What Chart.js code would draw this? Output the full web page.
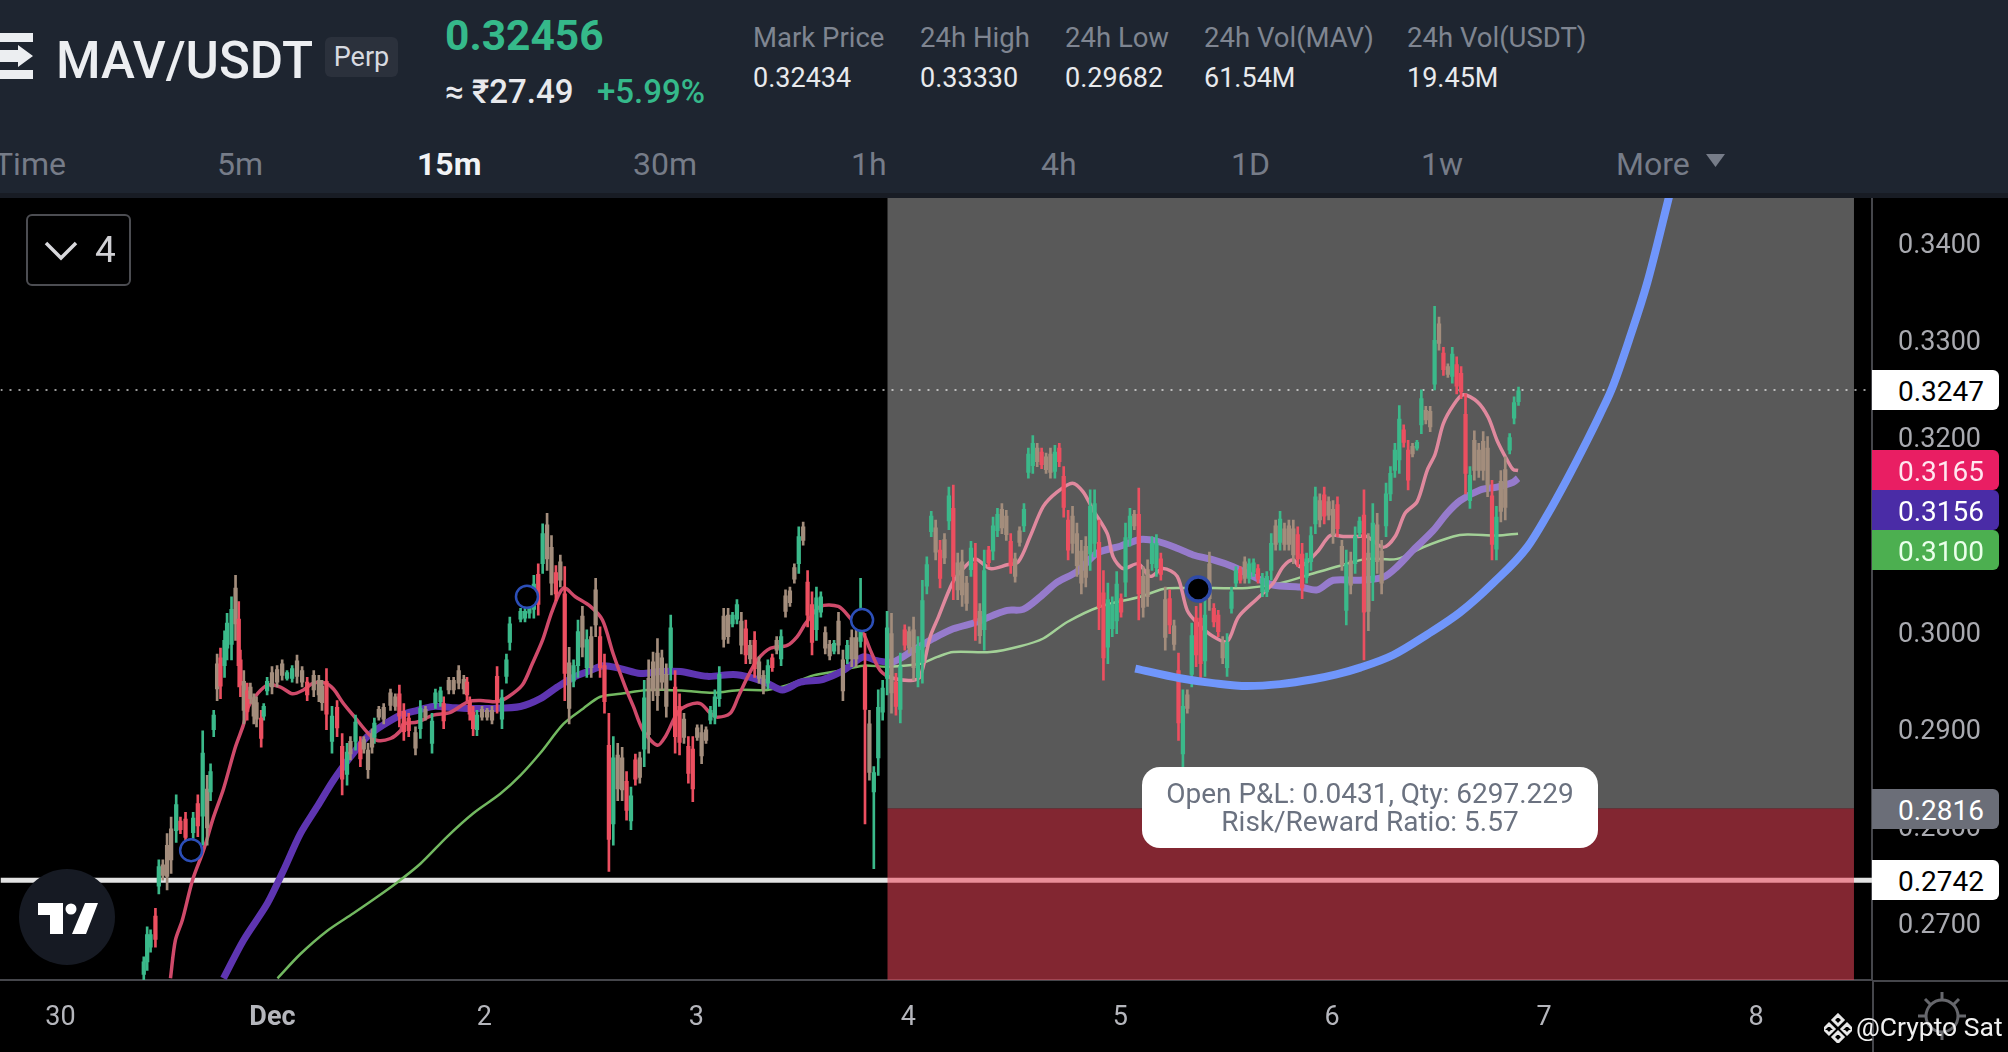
<!DOCTYPE html>
<html><head><meta charset="utf-8">
<script src="https://cdn.jsdelivr.net/npm/chart.js@4/dist/chart.umd.js"></script>
<style>
html,body{margin:0;padding:0;background:#000;width:2008px;height:1052px;overflow:hidden;font-family:Roboto,sans-serif}
#c{position:absolute;left:-15px;top:0}
.bar{position:absolute;left:0;top:0;width:2008px;height:193px;background:#1e2530}
.band{position:absolute;left:0;top:193px;width:2008px;height:5px;background:#181c24}
.t{position:absolute;white-space:nowrap;line-height:1}
.lab{color:#7f8591;font-size:27.5px}
.val{color:#e8eaed;font-size:27px}
.tab{color:#767c88;font-size:32px;top:148px}
.g{color:#35b98a}
.badge{position:absolute;left:1872px;width:127px;height:40px;border-radius:0 6px 6px 0;font-size:28px;line-height:43px;text-indent:26px}
.ln{position:absolute;background:#45464b}
</style></head><body>
<canvas id="c" width="2023" height="1052"></canvas>
<div class="bar"></div><div class="band"></div>
<svg style="position:absolute;left:0;top:0" width="40" height="90"><path fill="#eceef1" d="M0 33H33V42H0ZM0 70H33V79H0ZM0 50H18L18 45L33 56L18 67L18 62H0Z"/></svg>
<div class="t" style="left:56px;top:35px;font-size:51px;font-weight:500;color:#eceef1">MAV/USDT</div>
<div class="t" style="left:325px;top:37px;width:73px;height:40px;line-height:40px;background:#2b313c;border-radius:6px;text-align:center;font-size:27px;color:#d8dae0">Perp</div>
<div class="t g" style="left:445px;top:15px;font-size:42.5px;font-weight:700">0.32456</div>
<div class="t" style="left:445px;top:75px;font-size:33px;font-weight:500;color:#e8e9ec">≈ ₹27.49</div>
<div class="t g" style="left:597px;top:75px;font-size:33px;font-weight:500">+5.99%</div>
<div class="t lab" style="left:753px;top:24px">Mark Price</div><div class="t val" style="left:753px;top:65px">0.32434</div>
<div class="t lab" style="left:920px;top:24px">24h High</div><div class="t val" style="left:920px;top:65px">0.33330</div>
<div class="t lab" style="left:1065px;top:24px">24h Low</div><div class="t val" style="left:1065px;top:65px">0.29682</div>
<div class="t lab" style="left:1204px;top:24px">24h Vol(MAV)</div><div class="t val" style="left:1204px;top:65px">61.54M</div>
<div class="t lab" style="left:1407px;top:24px">24h Vol(USDT)</div><div class="t val" style="left:1407px;top:65px">19.45M</div>
<div class="t tab" style="left:-6px">Time</div>
<div class="t tab" style="left:217px">5m</div>
<div class="t tab" style="left:417px;color:#f2f3f5;font-weight:700">15m</div>
<div class="t tab" style="left:633px">30m</div>
<div class="t tab" style="left:851px">1h</div>
<div class="t tab" style="left:1041px">4h</div>
<div class="t tab" style="left:1231px">1D</div>
<div class="t tab" style="left:1421px">1w</div>
<div class="t tab" style="left:1616px">More</div>
<svg style="position:absolute;left:1706px;top:154px" width="20" height="14"><path fill="#767c88" d="M0 0H19L9.5 13Z"/></svg>
<div style="position:absolute;left:26px;top:214px;width:101px;height:68px;border:2px solid #4c4d52;border-radius:6px"></div>
<svg style="position:absolute;left:44px;top:240px" width="36" height="22"><path fill="none" stroke="#d8d8dc" stroke-width="3.5" d="M2 3L17 18L32 3"/></svg>
<div class="t" style="left:95px;top:231px;font-size:37px;color:#d0d0d4">4</div>
<div style="position:absolute;left:1142px;top:767px;width:456px;height:81px;background:#fff;border-radius:18px"></div>
<div class="t" style="left:1142px;width:456px;text-align:center;top:780px;font-size:28px;color:#6b7280">Open P&amp;L: 0.0431, Qty: 6297.229</div>
<div class="t" style="left:1142px;width:456px;text-align:center;top:808px;font-size:28px;color:#6b7280">Risk/Reward Ratio: 5.57</div>
<svg style="position:absolute;left:19px;top:869px" width="96" height="96"><circle cx="48" cy="48" r="48" fill="#161a23"/><path fill="#fff" d="M19 34H44V65H31V46H19ZM66 34H79L67 65H53Z"/><circle cx="52" cy="40" r="5.5" fill="#fff"/></svg>
<div class="ln" style="left:1872px;top:980px;width:136px;height:2px"></div>
<div class="ln" style="left:1872px;top:980px;width:2px;height:72px"></div>
<div id="badges"></div>
<svg style="position:absolute;left:1918px;top:992px" width="48" height="48"><circle cx="24" cy="24" r="16" fill="none" stroke="#66676c" stroke-width="3"/><path stroke="#66676c" stroke-width="3" d="M24 0V8M24 40V48M0 24H8M40 24H48M7 7L13 13M41 7L35 13"/></svg>
<svg style="position:absolute;left:1824px;top:1013px" width="28" height="30"><path fill="none" stroke="#e8e8e8" stroke-width="3" d="M14 2L19 7L14 12L9 7ZM5 11L10 16L5 21L0 16ZM23 11L28 16L23 21L18 16ZM14 19L19 24L14 29L9 24Z"/></svg>
<div class="t" style="left:1856px;top:1014px;font-size:26.5px;color:#f0f0f0">@Crypto Sat</div>
<script>
const xTickDays=[0,1,2,3,4,5,6,7,8];
const xTickLabels=["30","Dec","2","3","4","5","6","7","8"];
const yTicks=[0.27,0.28,0.29,0.30,0.31,0.32,0.33,0.34];
const firstCandleDay=0.40, candlesPerDay=48;
const earlyCandleDays=[
.393,.409,.425,.448,.464,.483,.503,.522,.546,.566,
.590,.626,.648,.671,.692,.708,.723,.739,.755,.774,
.786,.807,.826,.841,.849,.865,.881,.896,.912,.925,
.947,.959,.975,.998,1.022,1.046,1.069,1.093,1.116,1.140,
1.164,1.195,1.219,1.234,1.255,1.281,1.305,1.329,1.352,1.368,
1.392,1.415,1.431,1.451,1.470,1.481,1.502,1.525,1.557,1.580,
1.599,1.620,1.643,1.675,1.698,1.722,1.753,1.769,1.793,1.808,
1.832,1.855,1.879,1.903,1.918,1.931,1.947,1.965,1.989,2.013,
2.036,2.060,2.083,2.104,2.120];
const highs=[
2665,2696,2693,2715,2765,2765,2792,2809,2832,2809,
2814,2814,2832,2898,2852,2864,2919,2977,2983,3001,
3019,3036,3058,3031,2981,2960,2947,2947,2936,2933,
2919,2926,2953,2964,2965,2971,2960,2965,2976,2964,
2953,2960,2955,2950,2962,2923,2929,2895,2885,2892,
2914,2892,2892,2885,2900,2911,2923,2926,2941,2936,
2945,2926,2916,2902,2929,2923,2916,2941,2943,2933,
2953,2953,2965,2955,2953,2933,2923,2919,2923,2921,
2923,2964,2940,2977,3015,3024,3024,3039,3058,3070,
3111,3122,3099,3068,3079,3067,2984,2971,3012,3026,
3002,3005,3055,3005,2977,2916,2892,2885,2881,2856,
2840,2874,2876,2950,2971,2979,2993,2981,2967,3017,
2960,2936,2916,2892,2892,2904,2904,2902,2923,2940,
2964,3024,3024,3020,3033,3020,3012,2991,3000,2974,
2960,2971,2977,2995,3002,3043,3046,3070,3108,3113,
3063,3041,3046,3041,3005,2991,2991,3020,2981,2991,
3002,3002,3055,2998,2919,2861,2940,2950,3021,3019,
2957,2978,3007,3005,3015,2995,3053,3077,3124,3115,
3094,3101,3149,3151,3081,3084,3057,3093,3091,3029,
3084,3088,3118,3127,3132,3125,3101,3081,3108,3132,
3189,3202,3194,3189,3184,3189,3192,3194,3170,3125,
3129,3112,3094,3098,3146,3146,3115,3063,3050,3036,
3062,3039,3112,3127,3125,3148,3067,3074,3098,3100,
3081,3046,3043,3012,2978,2940,2940,3009,3026,3029,
3033,3082,3029,3022,2995,2998,3046,3067,3067,3077,
3075,3075,3069,3060,3062,3101,3115,3124,3112,3115,
3115,3108,3091,3081,3108,3149,3142,3149,3139,3135,
3139,3094,3084,3082,3108,3118,3146,3101,3132,3122,
3094,3153,3170,3194,3233,3213,3197,3194,3197,3249,
3232,3232,3335,3324,3293,3276,3293,3283,3273,3245,
3170,3207,3194,3206,3201,3156,3129,3166,3180,3204,
3242,3252];
const lows=[
2641,2651,2670,2675,2730,2744,2734,2751,2783,2792,
2780,2787,2789,2780,2780,2826,2892,2929,2931,2953,
2971,2971,2991,2943,2933,2905,2909,2926,2905,2902,
2881,2909,2935,2936,2943,2950,2950,2948,2947,2943,
2929,2933,2928,2919,2899,2875,2892,2832,2842,2868,
2878,2861,2875,2849,2875,2885,2909,2905,2919,2919,
2902,2888,2892,2873,2890,2909,2875,2921,2923,2900,
2936,2936,2941,2936,2929,2909,2893,2893,2909,2909,
2905,2916,2900,2947,2981,3010,3010,3014,3014,3017,
3060,3063,3038,3032,3046,2929,2905,2943,2953,2974,
2953,2953,2995,2953,2916,2753,2780,2826,2826,2806,
2796,2842,2844,2861,2875,2929,2919,2940,2912,2950,
2875,2873,2885,2844,2825,2888,2864,2885,2905,2905,
2923,2984,2988,3005,3008,2977,2967,2967,2953,2947,
2936,2941,2959,2977,2965,3015,3026,3050,3060,3089,
3005,2976,2991,3015,2977,2971,2977,2977,2929,2967,
2964,2964,2984,2802,2847,2756,2852,2909,2935,2916,
2914,2906,2981,2978,2950,2943,2947,3039,3098,3074,
3045,3070,3105,3033,3033,3026,3022,3057,2991,2988,
2981,3067,3074,3098,3101,3094,3060,3051,3088,3103,
3158,3163,3170,3168,3163,3158,3158,3170,3118,3074,
3081,3057,3039,3046,3063,3077,3002,2950,2967,2995,
2998,3015,3036,3088,3105,3012,3015,3026,3063,3057,
3053,2981,2998,2981,2888,2857,2916,2943,2964,2952,
2954,3022,3005,2995,2967,2954,3019,3046,3050,3050,
3050,3057,3050,3036,3036,3053,3084,3084,3084,3084,
3070,3067,3034,3050,3063,3101,3108,3111,3115,3091,
3098,3063,3007,3039,3060,3098,2971,3001,3032,3060,
3039,3098,3135,3159,3163,3190,3146,3180,3187,3204,
3214,3206,3249,3290,3264,3262,3256,3245,3240,3142,
3127,3156,3159,3156,3139,3074,3074,3113,3115,3183,
3214,3233];
const bodyLows=[
2647,2660,2675,2683,2738,2749,2748,2765,2795,2796,
2788,2793,2800,2810,2798,2835,2899,2941,2944,2965,
2983,2987,3008,2965,2945,2919,2918,2931,2913,2910,
2890,2913,2939,2943,2948,2955,2952,2952,2954,2948,
2935,2940,2935,2927,2915,2887,2901,2848,2853,2874,
2887,2869,2879,2858,2881,2891,2912,2910,2924,2923,
2913,2897,2898,2880,2900,2912,2885,2926,2928,2908,
2940,2940,2947,2941,2935,2915,2900,2899,2912,2912,
2909,2928,2910,2954,2989,3013,3014,3019,3023,3028,
3070,3075,3050,3039,3053,2957,2921,2949,2965,2984,
2963,2963,3007,2963,2928,2786,2802,2838,2837,2816,
2805,2848,2850,2879,2894,2939,2934,2948,2923,2963,
2892,2886,2891,2854,2838,2891,2872,2888,2909,2912,
2931,2992,2995,3008,3013,2986,2976,2972,2962,2952,
2941,2947,2963,2981,2972,3021,3030,3054,3070,3094,
3017,2989,3002,3020,2983,2975,2980,2986,2939,2972,
2972,2972,2990,2920,2855,2835,2870,2917,2952,2937,
2923,2920,2986,2983,2963,2953,2968,3047,3103,3082,
3055,3076,3114,3057,3043,3038,3029,3064,3011,2996,
3002,3071,3083,3104,3107,3100,3068,3057,3092,3109,
3164,3171,3175,3172,3167,3164,3165,3175,3128,3084,
3091,3068,3050,3056,3080,3091,3025,2973,2984,3003,
3011,3020,3051,3096,3109,3039,3025,3036,3070,3066,
3059,2994,3007,2987,2906,2874,2921,2956,2976,2967,
2970,3034,3010,3000,2973,2963,3024,3050,3053,3055,
3055,3061,3054,3041,3041,3063,3090,3092,3090,3090,
3079,3075,3045,3056,3072,3111,3115,3119,3120,3100,
3106,3069,3022,3048,3070,3102,3020,3021,3052,3072,
3050,3109,3142,3166,3177,3195,3156,3183,3189,3213,
3218,3211,3255,3297,3270,3265,3263,3253,3247,3163,
3135,3166,3166,3166,3151,3090,3085,3124,3128,3187,
3220,3237];
const bodyHighs=[
2660,2688,2688,2707,2758,2760,2780,2797,2822,2805,
2807,2808,2823,2875,2838,2856,2914,2967,2973,2991,
3009,3023,3045,3013,2971,2949,2939,2943,2930,2927,
2911,2923,2949,2958,2961,2967,2958,2962,2970,2960,
2948,2955,2950,2944,2949,2913,2922,2882,2876,2887,
2907,2886,2889,2878,2895,2906,2920,2922,2937,2933,
2936,2918,2911,2896,2921,2920,2908,2937,2939,2926,
2950,2950,2960,2951,2948,2928,2917,2914,2920,2919,
2919,2954,2932,2971,3008,3021,3021,3034,3049,3059,
3101,3110,3087,3061,3072,3039,2968,2965,3000,3016,
2992,2995,3043,2995,2965,2883,2870,2873,2870,2846,
2831,2868,2870,2932,2952,2969,2978,2973,2956,3004,
2943,2923,2910,2882,2879,2901,2896,2899,2919,2933,
2956,3016,3017,3017,3028,3011,3003,2986,2991,2969,
2955,2965,2973,2991,2995,3037,3042,3066,3098,3108,
3051,3028,3035,3036,2999,2987,2988,3011,2971,2986,
2994,2994,3005,2965,2905,2855,2922,2942,3004,2998,
2948,2964,3002,3000,3002,2985,3032,3069,3119,3107,
3084,3095,3140,3127,3071,3072,3050,3086,3071,3021,
3063,3084,3109,3121,3126,3119,3093,3075,3104,3126,
3183,3194,3189,3185,3180,3183,3185,3189,3160,3115,
3119,3101,3083,3088,3129,3132,3092,3040,3033,3028,
3049,3034,3097,3119,3121,3121,3057,3064,3091,3091,
3075,3033,3034,3006,2960,2923,2935,2996,3014,3014,
3017,3070,3024,3017,2989,2989,3041,3063,3064,3072,
3070,3071,3065,3055,3057,3091,3109,3116,3106,3109,
3106,3100,3080,3075,3099,3139,3135,3141,3134,3126,
3131,3088,3069,3073,3098,3114,3120,3081,3112,3110,
3083,3142,3163,3187,3219,3208,3187,3191,3195,3240,
3228,3227,3300,3317,3287,3273,3286,3275,3266,3224,
3161,3197,3187,3196,3189,3140,3118,3155,3167,3200,
3236,3248];
const candleKinds=("GGGRGTTTGR"+"RGRGTGGTRG"+"GGTRRTRTTT"+"RGGTTTGGTT"+"RTTTRGRRGT"+"GRTTTGTTTT"+"RRRTGTGGGR"+"TTTTRRRGTT"+
"TRGGGGGGGR"+"GTTRTRTGGT"+"GTTRRRGTTR"+"GRTGTTTTTG"+"RRTRRTTTGG"+"GTTGGTRTRT"+"TGRTGTTTGT"+"RRGGTTGTTG"+
"TTGRTGGGGT"+"RGRTTGGGGT"+"RTGRTTTGRT"+"GRGGTTRTTG"+"GGTRTTGRRR"+"TTTTGGRRGG"+"GRGGTRTTGG"+"RTRTRGTGRR"+
"GTRRTGGGRT"+"GGRGGGTGTT"+"TRRGGGTRTT"+"RTGTGGRTGT"+"TGGGGRRTGG"+"TTGTRTGRRR"+"GTTTTRGTTG"+"GG").split("");
const pinkDays=[.519,.542,.575,.623,.675,.722,.769,.825,.863,.887,
.929,.976,1.038,1.094,1.146,1.193,1.25,1.288,1.335,1.392,
1.453,1.495,1.557,1.604,1.618,1.684,1.759,1.84,1.925,1.995,
2.061,2.113,2.179,2.226,2.274,2.321,2.373,2.429,2.5,2.557,
2.608,2.665,2.703,2.75,2.816,2.854,2.91,2.958,3.019,3.066,
3.099,3.16,3.198,3.241,3.288,3.349,3.429,3.476,3.514,3.585,
3.67,3.726,3.788,3.821,3.868,3.929,4.024,4.057,4.104,4.142,
4.208,4.259,4.316,4.387,4.467,4.519,4.575,4.637,4.703,4.774,
4.825,4.873,4.939,4.967,5.014,5.085,5.142,5.203,5.269,5.316,
5.363,5.439,5.505,5.557,5.646,5.722,5.769,5.816,5.849,5.929,
5.991,6.052,6.118,6.165,6.241,6.297,6.344,6.401,6.448,6.486,
6.524,6.571,6.618,6.684,6.736,6.778,6.825,6.854,6.877];
const pinkValues=[2643,2682,2703,2744,2775,2809,2838,2881,2904,2923,
2936,2945,2943,2936,2940,2947,2947,2941,2926,2911,
2895,2888,2890,2898,2905,2907,2914,2917,2928,2929,
2928,2933,2945,2967,2991,3022,3045,3036,3026,3012,
2977,2943,2923,2898,2883,2892,2916,2924,2926,2916,
2912,2916,2933,2953,2971,2983,2986,2995,3008,3026,
3026,3014,2998,2981,2960,2952,2950,2954,2995,3015,
3050,3065,3075,3065,3069,3072,3098,3129,3144,3153,
3144,3125,3101,3077,3065,3070,3057,3065,3057,3022,
3009,2995,2990,3015,3034,3050,3067,3074,3067,3082,
3099,3098,3098,3098,3087,3098,3122,3134,3166,3183,
3214,3233,3244,3237,3221,3197,3177,3167,3166];
const purpleDays=[.769,.863,.976,1.052,1.132,1.212,1.288,1.368,1.448,1.524,
1.604,1.684,1.759,1.84,1.92,2.042,2.17,2.264,2.344,2.42,
2.5,2.561,2.642,2.736,2.83,2.925,3.052,3.175,3.255,3.335,
3.406,3.491,3.599,3.693,3.788,3.854,3.929,4.024,4.118,4.212,
4.325,4.401,4.467,4.542,4.623,4.703,4.797,4.892,5,5.094,
5.175,5.269,5.344,5.439,5.533,5.627,5.722,5.849,5.929,6.005,
6.132,6.241,6.307,6.382,6.476,6.542,6.604,6.698,6.778,6.854,6.877];
const purpleValues=[2643,2682,2720,2754,2792,2820,2847,2871,2892,2904,
2914,2919,2923,2922,2921,2921,2923,2931,2943,2953,
2960,2965,2962,2957,2959,2959,2954,2956,2953,2947,
2940,2948,2951,2960,2974,2970,2969,2981,2993,3003,
3010,3017,3022,3023,3036,3051,3062,3081,3088,3095,
3093,3086,3079,3074,3067,3057,3048,3046,3043,3053,
3053,3056,3067,3084,3104,3122,3135,3146,3149,3154,3158];
const greenDays=[1.024,1.132,1.259,1.382,1.495,1.59,1.698,1.825,1.948,2.075,
2.17,2.264,2.373,2.467,2.547,2.642,2.769,2.863,2.958,3.08,
3.208,3.335,3.429,3.552,3.679,3.788,3.901,4.057,4.137,4.212,
4.387,4.528,4.637,4.75,4.906,5.094,5.203,5.283,5.439,5.599,
5.755,5.91,6.038,6.165,6.307,6.429,6.571,6.637,6.778,6.877];
const greenValues=[2643,2668,2692,2710,2727,2742,2761,2789,2813,2833,
2852,2875,2905,2921,2933,2936,2940,2940,2939,2937,
2940,2940,2945,2955,2960,2965,2964,2967,2974,2979,
2979,2985,2993,3010,3026,3036,3044,3045,3045,3045,
3050,3060,3068,3075,3075,3087,3098,3100,3099,3101];
const curveDays=[5.071,5.283,5.439,5.599,5.755,5.91,6.02,6.132,6.288,6.448,6.604,6.759,6.92,7.014,7.108,7.203,7.264,7.321,7.406,7.486,7.594];
const curveValues=[2962,2952,2947,2944,2946,2951,2956,2963,2976,2997,3020,3050,3087,3120,3157,3197,3224,3251,3304,3359,3452];
const orderDays=[0.6165,2.201,3.782];
const orderValues=[2775,3036,3012];
const entryDay=[5.368];
const entryValue=[3044];
const boxDays=[3.901,8.462];
const lastPrice=0.3247, stopLevel=0.2816, liquidationLevel=0.2742;
const xMin=-0.283,xMax=8.547,yMin=0.263925,yMax=0.344573;
const badges=[["0.3247",390,"#fff","#000"],["0.3165",470,"#e91e63","#ffe6ef"],["0.3156",510,"#4a2ca6","#fff"],["0.3100",550,"#4caf50","#eaffea"],["0.2816",809,"#6b6e78","#fff"],["0.2742",880,"#fff","#000"]];
badges.forEach(b=>{const d=document.createElement('div');d.className='badge';d.textContent=b[0];d.style.top=(b[1]-20)+'px';d.style.background=b[2];d.style.color=b[3];document.getElementById('badges').appendChild(d);});
const price=v=>(v-2)/10000;
const kindColor={G:'#3bb98a',R:'#ec4f60',T:'#a38d7c'};
const zip=(xs,ys)=>xs.map((x,i)=>({x,y:price(ys[i])}));
const candleDay=i=>i<earlyCandleDays.length?earlyCandleDays[i]:firstCandleDay+i/candlesPerDay;
const line=(label,data,color,width,order,extra)=>Object.assign({type:'line',label,data,borderColor:color,borderWidth:width,pointRadius:0,tension:0.3,fill:false,order},extra||{});
const levelPts=(v)=>[{x:xMin,y:v},{x:xMax,y:v}];
const hiLoColors=candleKinds.map(k=>kindColor[k]);
new Chart(document.getElementById('c'),{
type:'bar',
data:{datasets:[
 line('liq',levelPts(liquidationLevel),'#e2e2e2',5,50,{tension:0}),
 line('last',levelPts(lastPrice),'#9a9a9a',2,49,{tension:0,borderDash:[2,7]}),
 line('ma slow',zip(greenDays,greenValues),'#72b860',2.5,48),
 line('ma mid',zip(purpleDays,purpleValues),'#5e35b1',7,47),
 line('ma fast',zip(pinkDays,pinkValues),'#cf4a6a',3.5,46),
 line('profit box',[{x:boxDays[0],y:yMax},{x:boxDays[1],y:yMax}],'transparent',0,45,{tension:0,fill:{value:stopLevel},backgroundColor:'rgba(255,255,255,0.35)'}),
 line('loss box',[{x:boxDays[0],y:stopLevel},{x:boxDays[1],y:stopLevel}],'transparent',0,44,{tension:0,fill:{value:yMin},backgroundColor:'rgba(240,70,90,0.54)'}),
 {type:'bar',label:'wicks',grouped:false,order:30,barThickness:2,borderWidth:0,backgroundColor:hiLoColors,
  data:highs.map((h,i)=>({x:candleDay(i),y:[price(lows[i]),price(h)]}))},
 {type:'bar',label:'bodies',grouped:false,order:29,barThickness:3.6,borderWidth:0,backgroundColor:hiLoColors,
  data:bodyHighs.map((h,i)=>({x:candleDay(i),y:[price(bodyLows[i]),price(h)]}))},
 line('curve',zip(curveDays,curveValues),'#7096fb',8,20,{cubicInterpolationMode:'monotone',borderCapStyle:'butt'}),
 {type:'line',label:'orders',data:zip(orderDays,orderValues),showLine:false,pointRadius:11,pointBackgroundColor:'#000',pointBorderColor:'#2c4fb8',pointBorderWidth:2.5,order:10},
 {type:'line',label:'entry',data:zip(entryDay,entryValue),showLine:false,pointRadius:12,pointBackgroundColor:'#000',pointBorderColor:'#2f4aa8',pointBorderWidth:3.5,order:9}
]},
options:{responsive:false,animation:false,devicePixelRatio:1,
 layout:{padding:{left:0,right:0,top:197,bottom:0}},
 plugins:{legend:{display:false},tooltip:{enabled:false},title:{display:false}},
 scales:{
  x:{type:'linear',min:xMin,max:xMax,offset:false,
   grid:{display:false,drawTicks:false},border:{display:true,color:'#45464b',width:2},
   afterBuildTicks:a=>{a.ticks=xTickDays.map(v=>({value:v}))},
   afterFit:a=>{a.height=72},
   ticks:{autoSkip:false,maxRotation:0,padding:22,color:'#b5b6bc',
    font:c=>({family:'Roboto',size:27,weight:xTickLabels[c.index]==='Dec'?'700':'400'}),
    callback:(v,i)=>xTickLabels[i]}},
  y:{type:'linear',position:'right',min:yMin,max:yMax,
   grid:{display:false,drawTicks:false},border:{display:true,color:'#45464b',width:2},
   afterBuildTicks:a=>{a.ticks=yTicks.map(v=>({value:v}))},
   afterFit:a=>{a.width=136;a.paddingTop=0;a.paddingBottom=0},
   ticks:{padding:26,crossAlign:'near',color:'#a9aab0',font:{family:'Roboto',size:27,lineHeight:'10px'},callback:v=>['',v.toFixed(4)]}}
 }}
});
</script></body></html>
